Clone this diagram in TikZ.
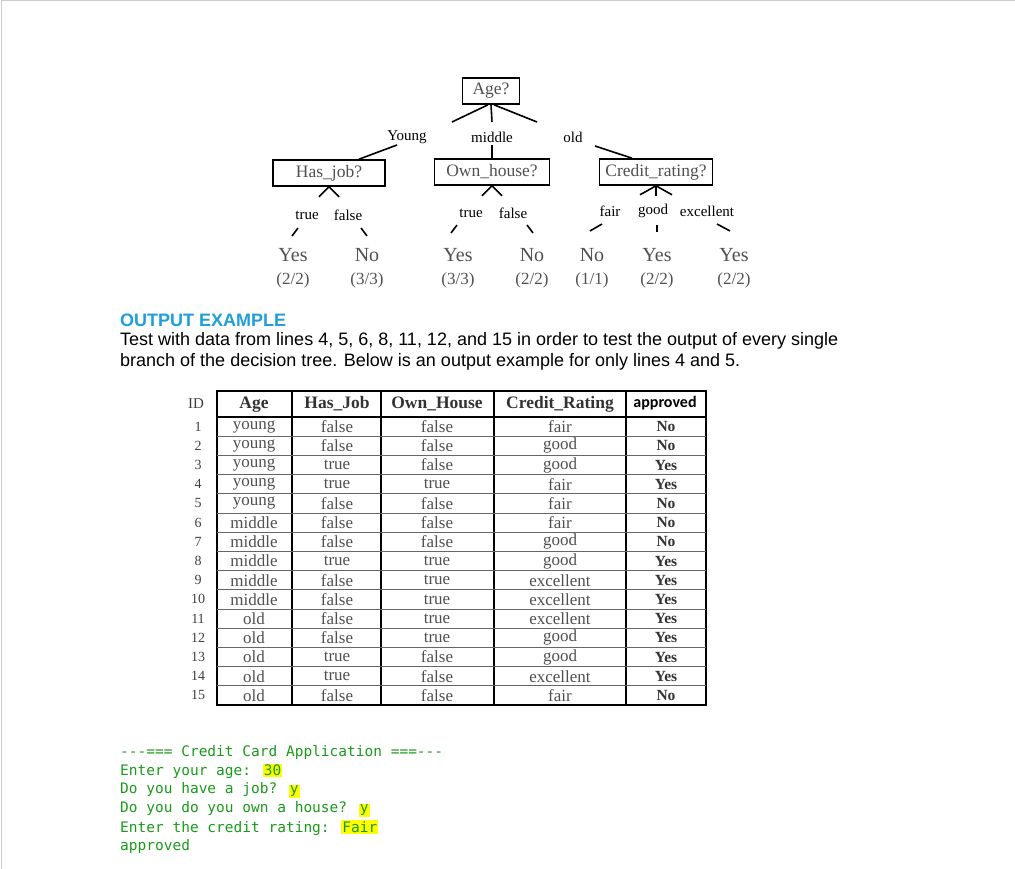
\documentclass[tikz,border=0pt]{standalone}
\usepackage{fontspec}
\usetikzlibrary{calc}
\setmainfont{Liberation Serif}
\newfontfamily\mysans{Liberation Sans}
\newfontfamily\mycarl{Carlito}
\newfontfamily\mymono{DejaVu Sans Mono}
\definecolor{tg}{HTML}{505050}
\definecolor{hd}{HTML}{1E9FDB}
\definecolor{cg}{HTML}{1A9A1A}
\definecolor{hl}{HTML}{FFFF00}
\setlength{\fboxsep}{1pt}
\begin{document}
\begin{tikzpicture}[x=1pt,y=-1pt,
  qbox/.style={draw,line width=1.6pt,minimum height=26pt,inner sep=0pt,font=\fontsize{17.5}{17.5}\selectfont,text=tg},
  br/.style={font=\fontsize{15}{15}\selectfont,inner sep=0pt},
  leaf/.style={font=\fontsize{20}{20}\selectfont,text=tg,inner sep=0pt},
  frac/.style={font=\fontsize{17}{17}\selectfont,text=tg,inner sep=0pt},
  edge/.style={line width=1.6pt},
  cell/.style={font=\fontsize{17}{17}\selectfont,text=tg,inner sep=0pt},
  hcell/.style={inner sep=0pt,font=\bfseries\fontsize{17.5}{17.5}\selectfont,text=black!80},
  code/.style={anchor=west,inner sep=0pt,font=\mymono\fontsize{14.5}{14.5}\selectfont,text=cg},
  para/.style={anchor=west,inner sep=0pt,font=\mysans\fontsize{18}{18}\selectfont}]
\useasboundingbox (0,0) rectangle (1015,869);
\draw[gray!40,line width=1pt] (1,869) -- (1,1) -- (1015,1);
% tree
\node[qbox,minimum width=57pt] (age) at (491,91) {Age?};
\node[qbox,minimum width=112pt] (job) at (329,173) {Has\_job?};
\node[qbox,minimum width=115pt] (house) at (492,172) {Own\_house?};
\node[qbox,minimum width=113pt] (credit) at (656,172) {Credit\_rating?};
\node[br] (young) at (407,137) {Young};
\node[br] (middle) at (492,137) {middle};
\node[br] (old) at (573,137) {old};
\coordinate (a1) at (452,122); \coordinate (a2) at (537,122); \coordinate (a3) at (492,122);
\draw[edge] ($(age.south)+(-3,0)$) -- (a1);
\draw[edge] ($(age.south)+(3,0)$) -- (a2);
\draw[edge] (age.south) -- (a3);
\coordinate (y1) at (397,145); \coordinate (m1) at (492,145); \coordinate (o1) at (595,146);
\draw[edge] (y1) -- ($(job.north)+(30,0)$);
\draw[edge] (m1) -- (house.north);
\draw[edge] (o1) -- ($(credit.north)-(24,0)$);
% branch labels
\node[br] (jt) at (307,215) {true};
\node[br] (jf) at (348,215) {false};
\node[br] (ht) at (471,213) {true};
\node[br] (hf) at (513,213) {false};
\node[br] (cf) at (610,211) {fair};
\node[br] (cgd) at (653,211) {good};
\node[br] (ce) at (707,211) {excellent};
\draw[edge] (job.south) -- ++(-10,10); \draw[edge] (job.south) -- ++(10,10);
\draw[edge] (house.south) -- ++(-10,10); \draw[edge] (house.south) -- ++(10,10);
\draw[edge] (credit.south) -- ++(-16,9); \draw[edge] (credit.south) -- ++(0,10); \draw[edge] (credit.south) -- ++(16,9);
\draw[edge] (298,228) -- (292,236); \draw[edge] (361,228) -- (367,236);
\draw[edge] (457,225) -- (451,233); \draw[edge] (527,225) -- (533,233);
\draw[edge] (602,224) -- (590,231); \draw[edge] (657,225) -- (657,232); \draw[edge] (717,224) -- (730,231);
% leaves
\foreach \n/\x/\t/\f in {l1/293/Yes/2\slash2, l2/367/No/3\slash3, l3/458/Yes/3\slash3, l4/532/No/2\slash2, l5/592/No/1\slash1, l6/657/Yes/2\slash2, l7/734/Yes/2\slash2}{
  \node[leaf] (\n) at (\x,255) {\t};
  \node[frac] (\n f) at (\x,280) {(\f)};
}
% text
\node[para,font=\mysans\bfseries\fontsize{18}{18}\selectfont,text=hd] (h) at (120,320) {OUTPUT EXAMPLE};
\node[para] (p1) at (120,341) {Test with data from lines 4, 5, 6, 8, 11, 12, and 15 in order to test the output of every single};
\node[para] (p2) at (120,362) {branch of the decision tree. Below is an output example for only lines 4 and 5.};
% table
\def\rh{19.2}
\draw[line width=1.4pt] (217,391) rectangle (706,705);
\foreach \x in {292,381,494,626}{\draw[line width=1.2pt] (\x,391) -- (\x,705);}
\draw[line width=1.2pt] (217,417) -- (706,417);
\foreach \i in {1,...,14}{\draw[line width=0.9pt,gray!80!black] (217,{417+\i*\rh}) -- (706,{417+\i*\rh});}
\node[cell,font=\fontsize{15}{15}\selectfont,text=black!75] (hid) at (196,404) {ID};
\node[hcell] (h1) at (254,405) {Age};
\node[hcell] (h2) at (337,404) {Has\_Job};
\node[hcell] (h3) at (437,404) {Own\_House};
\node[hcell] (h4) at (560,404) {Credit\_Rating};
\node[cell,font=\mycarl\bfseries\fontsize{16}{16}\selectfont,text=black] (h5) at (665,403) {approved};
\foreach \i/\a/\b/\c/\d/\e in {1/young/false/false/fair/No,2/young/false/false/good/No,3/young/true/false/good/Yes,4/young/true/true/fair/Yes,5/young/false/false/fair/No,6/middle/false/false/fair/No,7/middle/false/false/good/No,8/middle/true/true/good/Yes,9/middle/false/true/excellent/Yes,10/middle/false/true/excellent/Yes,11/old/false/true/excellent/Yes,12/old/false/true/good/Yes,13/old/true/false/good/Yes,14/old/true/false/excellent/Yes,15/old/false/false/fair/No}{
  \pgfmathsetmacro\yy{417+(\i-0.5)*\rh}
  \node[cell,font=\fontsize{14}{14}\selectfont,text=black!75] (id\i) at (198,\yy) {\i};
  \node[cell] (a\i) at (254,\yy) {\a};
  \node[cell] (b\i) at (337,\yy) {\b};
  \node[cell] (c\i) at (437,\yy) {\c};
  \node[cell] (d\i) at (560,\yy) {\d};
  \node[cell,font=\bfseries\fontsize{15.5}{15.5}\selectfont,text=black!80] (e\i) at (666,\yy) {\e};
}
% code
\node[code] (c1) at (120,752) {---=== Credit Card Application ===---};
\node[code] (c2) at (120,771) {Enter your age: \colorbox{hl}{30}};
\node[code] (c3) at (120,790) {Do you have a job? \colorbox{hl}{y}};
\node[code] (c4) at (120,809) {Do you do you own a house? \colorbox{hl}{y}};
\node[code] (c5) at (120,828) {Enter the credit rating: \colorbox{hl}{Fair}};
\node[code] (c6) at (120,846) {approved};
\end{tikzpicture}
\end{document}
